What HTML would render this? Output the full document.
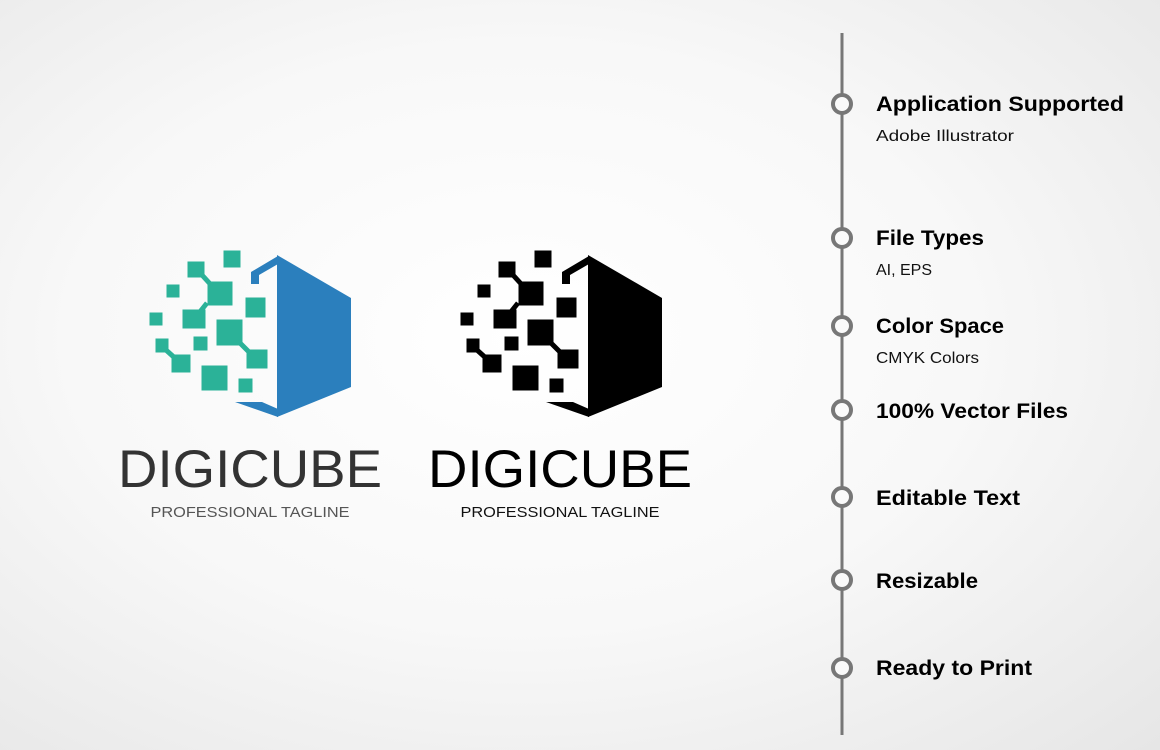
<!DOCTYPE html>
<html><head><style>
body{margin:0;width:1160px;height:750px;overflow:hidden;background:radial-gradient(ellipse at 45% 45%,#ffffff 0%,#f8f8f8 50%,#e6e6e6 100%);font-family:"Liberation Sans",sans-serif;}
</style></head><body>
<svg width="1160" height="750" style="position:absolute;left:0;top:0">
<defs>
<g id="sq">
<rect x="224" y="251" width="16" height="16"/>
<rect x="188" y="262" width="16" height="15"/>
<rect x="208" y="282" width="24" height="23"/>
<rect x="167" y="285" width="12" height="12"/>
<rect x="246" y="298" width="19" height="19"/>
<rect x="183" y="310" width="22" height="18"/>
<rect x="150" y="313" width="12" height="12"/>
<rect x="217" y="320" width="25" height="25"/>
<rect x="194" y="337" width="13" height="13"/>
<rect x="156" y="339" width="12" height="13"/>
<rect x="172" y="355" width="18" height="17"/>
<rect x="247" y="350" width="20" height="18"/>
<rect x="202" y="366" width="25" height="24"/>
<rect x="239" y="379" width="13" height="13"/>
<g stroke-width="5"><line x1="202" y1="275" x2="212" y2="286"/><line x1="207" y1="303" x2="199" y2="313"/><line x1="238" y1="341" x2="250" y2="353"/><line x1="166" y1="350" x2="176" y2="359"/></g>
</g>
<g id="hex">
<polygon points="277,255 351,298 351,387 277,417"/>
<polygon points="251,272 278,256 278,264 259,275 259,284 251,284"/>
<polygon points="235,402 262,402 278,409 278,417"/>
</g>
</defs>
<g fill="#2bb298" stroke="#2bb298"><use href="#sq"/></g>
<g fill="#2b7fbd"><use href="#hex"/></g>
<g transform="translate(311,0)"><g fill="#000" stroke="#000"><use href="#sq"/></g><use href="#hex" fill="#000"/></g>
<text x="250" y="487" text-anchor="middle" font-size="53" fill="#333" textLength="264" lengthAdjust="spacingAndGlyphs">DIGICUBE</text>
<text x="250" y="517" text-anchor="middle" font-size="15" fill="#555" textLength="199" lengthAdjust="spacingAndGlyphs">PROFESSIONAL TAGLINE</text>
<text x="560" y="487" text-anchor="middle" font-size="53" fill="#000" textLength="264" lengthAdjust="spacingAndGlyphs">DIGICUBE</text>
<text x="560" y="517" text-anchor="middle" font-size="15" fill="#111" textLength="199" lengthAdjust="spacingAndGlyphs">PROFESSIONAL TAGLINE</text>
<line x1="842" y1="33" x2="842" y2="735" stroke="#777" stroke-width="3"/>
<g fill="#fafafa" stroke="#777" stroke-width="4">
<circle cx="842" cy="104" r="9"/><circle cx="842" cy="238" r="9"/><circle cx="842" cy="326" r="9"/><circle cx="842" cy="410" r="9"/><circle cx="842" cy="497" r="9"/><circle cx="842" cy="580" r="9"/><circle cx="842" cy="668" r="9"/>
</g>
<g font-weight="bold" font-size="21" fill="#000">
<text x="876" y="111" textLength="248" lengthAdjust="spacingAndGlyphs">Application Supported</text>
<text x="876" y="245" textLength="108" lengthAdjust="spacingAndGlyphs">File Types</text>
<text x="876" y="333" textLength="128" lengthAdjust="spacingAndGlyphs">Color Space</text>
<text x="876" y="418" textLength="192" lengthAdjust="spacingAndGlyphs">100% Vector Files</text>
<text x="876" y="505" textLength="144" lengthAdjust="spacingAndGlyphs">Editable Text</text>
<text x="876" y="588" textLength="102" lengthAdjust="spacingAndGlyphs">Resizable</text>
<text x="876" y="675" textLength="156" lengthAdjust="spacingAndGlyphs">Ready to Print</text>
</g>
<g font-size="16" fill="#111">
<text x="876" y="141" textLength="138" lengthAdjust="spacingAndGlyphs">Adobe Illustrator</text>
<text x="876" y="275">AI, EPS</text>
<text x="876" y="363" textLength="103" lengthAdjust="spacingAndGlyphs">CMYK Colors</text>
</g>
</svg>
</body></html>
